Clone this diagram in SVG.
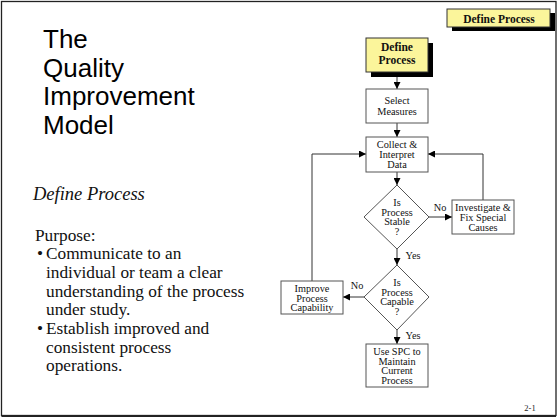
<svg xmlns="http://www.w3.org/2000/svg" width="560" height="420" viewBox="0 0 560 420">
<defs>
<marker id="ah" viewBox="0 0 10 10" refX="10" refY="5" markerWidth="7" markerHeight="7" markerUnits="userSpaceOnUse" orient="auto"><path d="M0,0 L10,5 L0,10 z" fill="#000"/></marker>
</defs>
<style>
.box{fill:#fff;stroke:#555;stroke-width:1}
.hl{fill:#fbf59b;stroke:#333;stroke-width:1}
.sh{fill:#000}
.t{font-family:"Liberation Serif","DejaVu Serif",serif;font-size:10.3px;fill:#111;text-anchor:middle}
.b{font-weight:bold;font-size:11.5px}
.c{fill:none;stroke:#333;stroke-width:1}
.body{font-family:"Liberation Serif","DejaVu Serif",serif;font-size:17.3px;fill:#111}
.title{font-family:"Liberation Sans",Arial,sans-serif;font-size:26px;fill:#000}
</style>
<rect x="0" y="0" width="560" height="420" fill="#fff"/>
<rect x="1.5" y="1.5" width="554.5" height="414" fill="none" stroke="#222" stroke-width="1.3"/>
<line x1="1.5" y1="416" x2="556" y2="416" stroke="#222" stroke-width="2"/>

<g id="header-tag">
<rect class="sh" x="452" y="13" width="103" height="18"/>
<rect class="hl" x="447" y="9" width="103" height="18"/>
<text class="t b" x="499" y="22.5">Define Process</text>
</g>

<g id="title">
<text class="title" x="43" y="48">The</text>
<text class="title" x="43" y="76.5">Quality</text>
<text class="title" x="43" y="105">Improvement</text>
<text class="title" x="43" y="133.5">Model</text>
</g>

<g id="subtitle">
<text x="33" y="200" style="font-family:'Liberation Serif','DejaVu Serif',serif;font-style:italic;font-size:18.5px;fill:#111">Define Process</text>
</g>

<g id="purpose">
<text class="body" x="35" y="241">Purpose:</text>
<text class="body" x="37" y="259">•</text>
<text class="body" x="46" y="259">Communicate to an</text>
<text class="body" x="46" y="278">individual or team a clear</text>
<text class="body" x="46" y="296.5">understanding of the process</text>
<text class="body" x="46" y="315">under study.</text>
<text class="body" x="37" y="334">•</text>
<text class="body" x="46" y="334">Establish improved and</text>
<text class="body" x="46" y="352.5">consistent process</text>
<text class="body" x="46" y="371">operations.</text>
</g>

<g id="connectors">
<line class="c" x1="397" y1="72" x2="397" y2="89" marker-end="url(#ah)"/>
<line class="c" x1="397" y1="123" x2="397" y2="137" marker-end="url(#ah)"/>
<line class="c" x1="397" y1="172" x2="397" y2="185" marker-end="url(#ah)"/>
<line class="c" x1="429" y1="217" x2="452" y2="217" marker-end="url(#ah)"/>
<polyline class="c" points="483,200 483,154 428,154" marker-end="url(#ah)"/>
<line class="c" x1="397" y1="249" x2="397" y2="265" marker-end="url(#ah)"/>
<line class="c" x1="364" y1="297" x2="343" y2="297" marker-end="url(#ah)"/>
<polyline class="c" points="312,281 312,154 366,154" marker-end="url(#ah)"/>
<line class="c" x1="397" y1="330" x2="397" y2="344" marker-end="url(#ah)"/>
<text class="t" x="440" y="211">No</text>
<text class="t" x="413" y="259">Yes</text>
<text class="t" x="357" y="288.5">No</text>
<text class="t" x="413" y="338.5">Yes</text>
</g>

<g id="define-process">
<rect class="sh" x="371" y="43" width="62" height="34"/>
<rect class="hl" x="366" y="38" width="62" height="34"/>
<text class="t b" x="397" y="51">Define</text>
<text class="t b" x="397" y="63.5">Process</text>
</g>

<g id="select-measures">
<rect class="box" x="366" y="89" width="62" height="34"/>
<text class="t" x="397" y="104">Select</text>
<text class="t" x="397" y="114.5">Measures</text>
</g>

<g id="collect-data">
<rect class="box" x="366" y="137" width="62" height="35"/>
<text class="t" x="397" y="148">Collect &amp;</text>
<text class="t" x="397" y="158">Interpret</text>
<text class="t" x="397" y="168">Data</text>
</g>

<g id="stable">
<polygon class="box" points="397,185 429,217 397,249 364,217"/>
<text class="t" x="397" y="206">Is</text>
<text class="t" x="397" y="215.5">Process</text>
<text class="t" x="397" y="225">Stable</text>
<text class="t" x="397" y="234.5">?</text>
</g>

<g id="investigate">
<rect class="box" x="452" y="200" width="62" height="34"/>
<text class="t" x="483" y="211">Investigate &amp;</text>
<text class="t" x="483" y="221">Fix Special</text>
<text class="t" x="483" y="231">Causes</text>
</g>

<g id="capable">
<polygon class="box" points="397,265 429,297 397,330 364,297"/>
<text class="t" x="397" y="286">Is</text>
<text class="t" x="397" y="295.5">Process</text>
<text class="t" x="397" y="305">Capable</text>
<text class="t" x="397" y="314.5">?</text>
</g>

<g id="improve">
<rect class="box" x="281" y="281" width="62" height="33"/>
<text class="t" x="312" y="292">Improve</text>
<text class="t" x="312" y="301.5">Process</text>
<text class="t" x="312" y="311">Capability</text>
</g>

<g id="use-spc">
<rect class="box" x="366" y="344" width="62" height="43"/>
<text class="t" x="397" y="355">Use SPC to</text>
<text class="t" x="397" y="364.5">Maintain</text>
<text class="t" x="397" y="374">Current</text>
<text class="t" x="397" y="383.5">Process</text>
</g>

<g id="page-number">
<text x="530" y="411" style="font-family:'Liberation Serif',serif;font-size:8.5px;fill:#222;text-anchor:middle">2-1</text>
</g>
</svg>
